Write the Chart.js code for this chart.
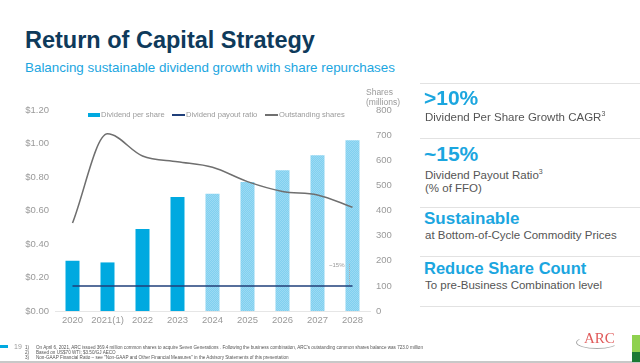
<!DOCTYPE html>
<html>
<head>
<meta charset="utf-8">
<script src="https://cdn.jsdelivr.net/npm/chart.js@4.4.1/dist/chart.umd.min.js"></script>
<style>
  body { margin: 0; width: 640px; height: 363px; overflow: hidden; background: #fff; font-family: "Liberation Sans", Arial, sans-serif; position: relative; }
  .abs { position: absolute; white-space: nowrap; }
  #title { left: 25px; top: 27px; font-size: 23.5px; font-weight: bold; color: #0e3a5b; }
  #sub { left: 25px; top: 60px; font-size: 13.4px; color: #1ba6df; }
  #wrap { position: absolute; left: 0; top: 80px; width: 400px; height: 260px; }
  .leg { top: 110px; font-size: 7.6px; color: #9a9a9a; }
  .sw { display: inline-block; vertical-align: middle; margin-right: 1px; }
  .rule { position: absolute; left: 420px; width: 220px; height: 1px; background: #e2e2e2; }
  .big { color: #1ba6df; font-weight: bold; }
  .small { color: #555; font-size: 11.5px; }
  .note { font-size: 4.6px; color: #555; }
</style>
</head>
<body>
<div class="abs" id="title">Return of Capital Strategy</div>
<div class="abs" id="sub">Balancing sustainable dividend growth with share repurchases</div>

<div id="wrap"><canvas id="myChart"></canvas></div>

<div class="abs leg" style="left:88px"><span class="sw" style="width:12px;height:4px;background:#00a9e0"></span>Dividend per share</div>
<div class="abs leg" style="left:172px"><span class="sw" style="width:13px;height:2px;background:#1f3f7a"></span>Dividend payout ratio</div>
<div class="abs leg" style="left:265px"><span class="sw" style="width:13px;height:2px;background:#707070"></span>Outstanding shares</div>
<div class="abs" style="left:366px;top:87px;font-size:8.5px;color:#999;line-height:10px">Shares<br>(millions)</div>

<div class="rule" style="top:83px"></div>
<div class="abs big" style="left:424px;top:86px;font-size:21px">&gt;10%</div>
<div class="abs small" style="left:425px;top:110px">Dividend Per Share Growth CAGR<sup style="font-size:7px">3</sup></div>
<div class="rule" style="top:138px"></div>
<div class="abs big" style="left:424px;top:142px;font-size:21px">~15%</div>
<div class="abs small" style="left:425px;top:165px;line-height:13px">Dividend Payout Ratio<sup style="font-size:7px">3</sup><br>(% of FFO)</div>
<div class="rule" style="top:207px"></div>
<div class="abs big" style="left:424px;top:209px;font-size:17px">Sustainable</div>
<div class="abs small" style="left:425px;top:229px">at Bottom-of-Cycle Commodity Prices</div>
<div class="rule" style="top:256px"></div>
<div class="abs big" style="left:424px;top:259px;font-size:16.5px">Reduce Share Count</div>
<div class="abs small" style="left:425px;top:279px">To pre-Business Combination level</div>
<div class="rule" style="top:306px"></div>

<!-- pied de page -->
<div class="abs" style="left:0;top:345px;width:8px;height:3px;background:#00a9e0"></div>
<div class="abs" style="left:14px;top:343px;font-size:7px;color:#999">19</div>
<div class="abs note" style="left:25px;top:345px;line-height:5.2px">1)<br>2)<br>3)</div>
<div class="abs note" style="left:36px;top:345px;line-height:5.2px">On April 6, 2021, ARC issued 369.4 million common shares to acquire Seven Generations . Following the business combination, ARC's outstanding common shares balance was 723.0 million<br>Based on US$70 WTI; $3.50/GJ AECO<br>Non-GAAP Financial Ratio – see "Non-GAAP and Other Financial Measures" in the Advisory Statements of this presentation</div>
<div class="abs" style="left:0;top:361px;width:640px;height:2px;background:#c8c8c8"></div>
<div class="abs" style="left:576px;top:336px;width:40px;height:11px;border:1px solid #aaa;border-radius:50%;border-top-color:transparent;border-right-color:transparent"></div>
<div class="abs" style="left:584px;top:330px;font-family:'Liberation Serif',serif;font-size:15px;color:#e05a5a">ARC</div>
<div class="abs" style="left:632px;top:335px;width:8px;height:17px;background:#8fd14f"></div>
<div class="abs" style="left:632px;top:352px;width:8px;height:10px;background:#1b7a34"></div>

<script>
// Données
const years = ['2020', '2021(1)', '2022', '2023', '2024', '2025', '2026', '2027', '2028'];
const dividendPerShare = [0.30, 0.29, 0.49, 0.68, 0.70, 0.77, 0.84, 0.93, 1.02];
const payoutRatio = [100, 100, 100, 100, 100, 100, 100, 100, 100];
const outstandingShares = [350, 705, 617, 594, 572, 515, 476, 462, 413];
const forecastFrom = 4; // index des années prévisionnelles (barres hachurées)
const leftTicks = [0, 0.2, 0.4, 0.6, 0.8, 1.0, 1.2];
const rightTicks = [0, 100, 200, 300, 400, 500, 600, 700, 800];

// Motif hachuré pour les années prévues
const makePattern = () => {
  const c = document.createElement('canvas');
  c.width = 2; c.height = 2;
  const g = c.getContext('2d');
  g.fillStyle = '#80d0f0';
  g.fillRect(0, 0, 2, 2);
  g.fillStyle = '#9cdaf3';
  g.fillRect(0, 0, 1, 1);
  g.fillRect(1, 1, 1, 1);
  return g.createPattern(c, 'repeat');
};
const hatch = makePattern();

// Petite annotation "~15%" à côté de la dernière barre
const noteLabel = {
  id: 'noteLabel',
  afterDatasetsDraw(chart) {
    const { ctx, scales } = chart;
    const x = scales.x.getPixelForValue(years.length - 1) - 3;
    const y0 = scales.y1.getPixelForValue(payoutRatio[payoutRatio.length - 1]);
    ctx.save();
    ctx.strokeStyle = '#aaa';
    ctx.lineWidth = 1;
    ctx.setLineDash([1, 1]);
    ctx.beginPath();
    ctx.moveTo(x, y0 - 1);
    ctx.lineTo(x, y0 - 22);
    ctx.stroke();
    ctx.fillStyle = '#999';
    ctx.font = '6px "Liberation Sans", Arial';
    ctx.textAlign = 'right';
    ctx.textBaseline = 'middle';
    ctx.fillText('~15%', x - 5, y0 - 21);
    ctx.restore();
  }
};

const tickFont = { size: 9.5, family: '"Liberation Sans", Arial' };

const ctx = document.getElementById('myChart');
new Chart(ctx, {
  type: 'bar',
  data: {
    labels: years,
    datasets: [
      {
        type: 'line',
        label: 'Outstanding shares',
        data: outstandingShares,
        yAxisID: 'y1',
        borderColor: '#6f6f6f',
        borderWidth: 1.5,
        pointRadius: 0,
        cubicInterpolationMode: 'monotone',
        fill: false,
        order: 1
      },
      {
        type: 'line',
        label: 'Dividend payout ratio',
        data: payoutRatio,
        yAxisID: 'y1',
        borderColor: '#1f3f7a',
        borderWidth: 1.5,
        pointRadius: 0,
        fill: false,
        order: 2
      },
      {
        label: 'Dividend per share',
        data: dividendPerShare,
        yAxisID: 'y',
        backgroundColor: dividendPerShare.map((v, i) => i >= forecastFrom ? hatch : '#00a9e0'),
        barPercentage: 0.5,
        categoryPercentage: 0.8,
        order: 3
      }
    ]
  },
  options: {
    responsive: true,
    maintainAspectRatio: false,
    animation: false,
    layout: { padding: { top: 30, bottom: 0, left: 0, right: 0 } },
    plugins: { legend: { display: false }, tooltip: { enabled: false } },
    scales: {
      x: {
        grid: { display: false, drawTicks: false },
        border: { color: '#e6e6e6', width: 1 },
        ticks: { color: '#9a9a9a', font: tickFont, padding: 4, maxRotation: 0, autoSkip: false },
        afterFit: (s) => { s.height = 29; }
      },
      y: {
        position: 'left',
        min: 0, max: 1.2,
        grid: { display: false, drawTicks: false },
        border: { display: false },
        afterBuildTicks: (s) => { s.ticks = leftTicks.map(v => ({ value: v })); },
        ticks: {
          color: '#9a9a9a', font: tickFont, padding: 6,
          callback: (v) => '$' + Number(v).toFixed(2)
        },
        afterFit: (s) => { s.width = 55; }
      },
      y1: {
        position: 'right',
        min: 0, max: 800,
        grid: { display: false, drawTicks: false },
        border: { display: false },
        afterBuildTicks: (s) => { s.ticks = rightTicks.map(v => ({ value: v })); },
        ticks: { color: '#9a9a9a', font: tickFont, padding: 6 },
        afterFit: (s) => { s.width = 30; }
      }
    }
  },
  plugins: [noteLabel]
});
</script>
</body>
</html>
